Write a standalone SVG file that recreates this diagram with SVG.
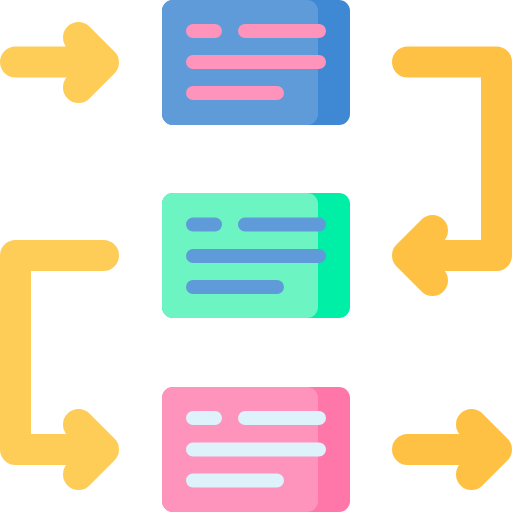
<svg xmlns="http://www.w3.org/2000/svg" width="512" height="512" viewBox="0 0 512 512">
<style>
.arr{fill:none;stroke-width:31;stroke-linecap:round;stroke-linejoin:round}
.l{stroke:#fecd57}
.r{stroke:#fec143}
.ln{fill:none;stroke-width:14;stroke-linecap:round}
</style>
<g id="connectors">
<path class="arr l" d="M15.5 62H100M78.5 37.5L103.5 62.5L78.5 87.5"/>
<path class="arr r" d="M407.5 62H496.5V255.5H410M432.5 230.5L407.5 255.5L432.5 280.5"/>
<path class="arr l" d="M103.5 255.5H15.5V449.5H100M78.5 424.5L103.5 449.5L78.5 474.5"/>
<path class="arr r" d="M407.5 449.5H494M471.5 424.5L496.5 449.5L471.5 474.5"/>
</g>
<g id="card1">
<rect x="162" y="0" width="188" height="125" rx="11" fill="#3f88d3"/>
<rect x="162" y="0" width="156" height="125" rx="11" fill="#5f9bd9"/>
<g class="ln" stroke="#fe93bb"><path d="M193 31H215M245 31H319M193 62H319M193 93H277"/></g>
</g>
<g id="card2">
<rect x="162" y="193" width="188" height="125" rx="11" fill="#00efa6"/>
<rect x="162" y="193" width="156" height="125" rx="11" fill="#6cf5c2"/>
<g class="ln" stroke="#5f9bd9"><path d="M193 224.5H215M245 224.5H319M193 256H319M193 287H277"/></g>
</g>
<g id="card3">
<rect x="162" y="387" width="188" height="125" rx="11" fill="#fe77a8"/>
<rect x="162" y="387" width="156" height="125" rx="11" fill="#fe93bb"/>
<g class="ln" stroke="#ddf2fa"><path d="M193 418H215M245 418H319M193 449.5H319M193 480.5H277"/></g>
</g>
</svg>
